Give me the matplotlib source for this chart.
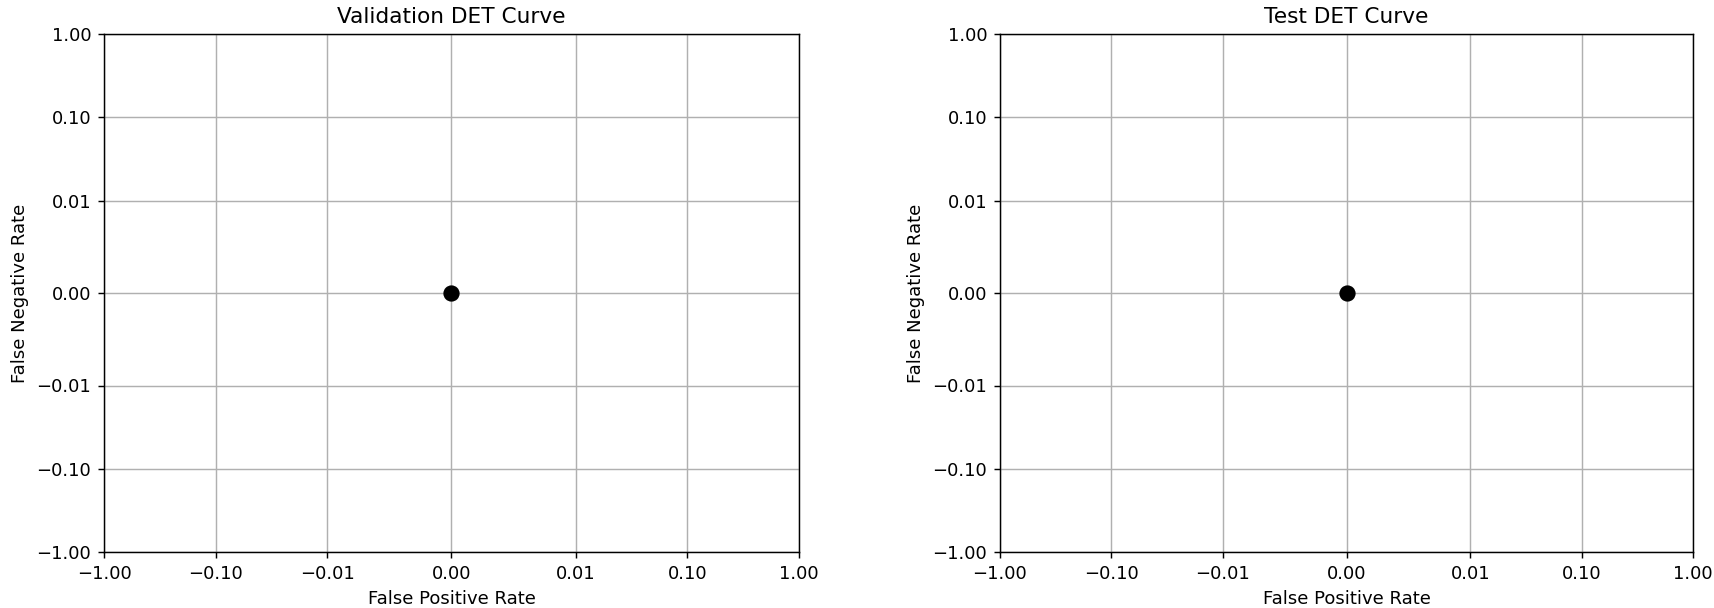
import matplotlib
matplotlib.use("Agg")
import matplotlib.pyplot as plt
from matplotlib.ticker import FixedLocator, FuncFormatter, NullLocator

titles = ["Validation DET Curve", "Test DET Curve"]
val_fpr = [0.0]
val_fnr = [0.0]
test_fpr = [0.0]
test_fnr = [0.0]
tick_values = [-1.0, -0.1, -0.01, 0.0, 0.01, 0.1, 1.0]

DPI = 130
fig = plt.figure(figsize=(1714 / DPI, 608 / DPI), dpi=DPI)
positions = [[104 / 1714, 56 / 608, 695 / 1714, 518 / 608],
             [1000 / 1714, 56 / 608, 693 / 1714, 518 / 608]]
data = [(val_fpr, val_fnr), (test_fpr, test_fnr)]

fmt = FuncFormatter(lambda v, p: ('%.2f' % v).replace('-', '\u2212'))

for pos, title, (fpr, fnr) in zip(positions, titles, data):
    ax = fig.add_axes(pos)
    ax.plot(fpr, fnr, 'o', color='black', markersize=8)
    ax.set_xscale('symlog', linthresh=0.01)
    ax.set_yscale('symlog', linthresh=0.01)
    ax.set_xlim(-1, 1)
    ax.set_ylim(-1, 1)
    for axis in (ax.xaxis, ax.yaxis):
        axis.set_major_locator(FixedLocator(tick_values))
        axis.set_minor_locator(NullLocator())
        axis.set_major_formatter(fmt)
    ax.grid(True)
    ax.set_title(title)
    ax.set_xlabel('False Positive Rate')
    ax.set_ylabel('False Negative Rate')

fig.savefig('out.png', dpi=DPI)
